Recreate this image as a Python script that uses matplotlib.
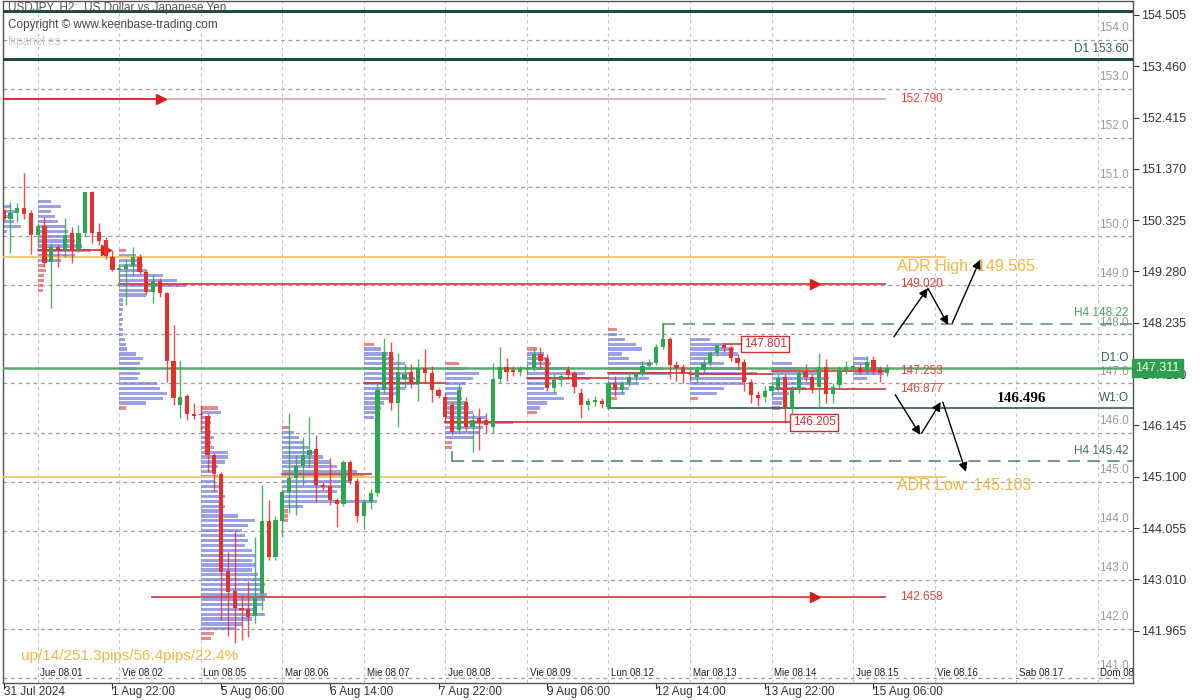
import matplotlib
matplotlib.use("Agg")
import matplotlib.pyplot as plt

plt.rcParams['font.family'] = ['Liberation Sans', 'DejaVu Sans']

# H2 candles, bar 0 = 31 Jul 14:00 (weekend bars skipped)
opens = [150.53, 150.35, 150.47, 150.57, 150.47, 150.02, 150.21, 149.48, 149.78, 149.72,
         150.06, 149.72, 150.06, 150.90, 150.08, 149.92, 149.58, 149.31, 149.33, 149.39,
         149.58, 149.27, 148.86, 149.09, 148.84, 147.45, 146.56, 146.74, 146.37, 146.37,
         146.33, 145.54, 145.15, 143.17, 142.77, 142.43, 142.41, 142.26, 142.71, 144.20,
         143.47, 144.20, 144.79, 145.07, 145.32, 145.54, 145.66, 144.93, 144.91, 144.63,
         144.54, 145.40, 145.01, 144.30, 144.58, 144.77, 146.87, 147.64, 146.60, 147.10,
         147.23, 147.01, 147.31, 147.21, 146.87, 146.72, 146.56, 146.05, 146.62, 146.11,
         146.30, 146.26, 146.11, 147.09, 147.34, 147.28, 147.23, 147.29, 147.31, 147.60,
         147.52, 146.91, 147.07, 147.27, 147.21, 146.81, 146.56, 146.62, 146.65, 146.52,
         147.01, 146.87, 147.00, 147.13, 147.20, 147.35, 147.42, 147.74, 147.90, 147.37,
         147.33, 147.21, 147.13, 147.27, 147.41, 147.62, 147.78, 147.72, 147.52, 147.44,
         147.03, 146.77, 146.72, 146.85, 146.90, 147.13, 146.50, 146.87, 147.23, 147.13,
         146.93, 147.33, 146.79, 146.97, 147.27, 147.31, 147.32, 147.27, 147.48, 147.29,
         147.21]
highs = [150.55, 150.70, 150.68, 151.29, 150.53, 150.27, 150.39, 149.86, 149.82, 150.37,
         150.19, 150.23, 150.90, 150.92, 150.27, 149.98, 149.72, 149.43, 149.51, 149.78,
         149.64, 149.33, 149.21, 149.15, 148.86, 148.19, 147.48, 146.78, 146.60, 146.56,
         146.40, 145.58, 145.19, 143.57, 143.99, 142.69, 142.98, 143.87, 144.93, 144.63,
         144.30, 144.83, 146.40, 145.54, 145.91, 146.32, 145.95, 145.00, 145.48, 144.67,
         145.44, 145.44, 145.07, 144.65, 144.85, 147.00, 147.92, 147.84, 147.62, 147.40,
         147.40, 147.50, 147.70, 147.35, 146.90, 146.80, 146.62, 147.01, 146.72, 146.40,
         146.50, 146.40, 147.42, 147.74, 147.52, 147.35, 147.35, 147.40, 147.70, 147.75,
         147.60, 147.20, 147.20, 147.35, 147.25, 146.90, 146.70, 146.75, 146.70, 147.05,
         147.15, 147.05, 147.20, 147.25, 147.45, 147.50, 147.80, 148.22, 147.95, 147.45,
         147.40, 147.30, 147.35, 147.50, 147.66, 147.80, 147.80, 147.76, 147.60, 147.50,
         147.10, 146.85, 146.95, 147.00, 147.20, 147.20, 146.95, 147.30, 147.40, 147.20,
         147.62, 147.50, 147.00, 147.35, 147.45, 147.40, 147.40, 147.55, 147.55, 147.35,
         147.40]
lows = [150.33, 149.66, 150.29, 150.35, 149.64, 149.80, 149.37, 148.54, 149.37, 149.58,
        149.45, 149.68, 149.98, 149.86, 149.82, 149.53, 149.29, 148.98, 148.60, 149.21,
        149.23, 148.80, 148.64, 148.76, 147.03, 146.56, 146.29, 146.25, 146.27, 146.01,
        145.20, 144.80, 142.18, 141.86, 141.71, 141.77, 141.84, 142.12, 142.39, 143.40,
        143.41, 143.88, 144.36, 144.32, 144.93, 145.30, 144.59, 144.82, 144.53, 144.08,
        144.50, 144.95, 144.18, 144.03, 144.45, 144.70, 146.80, 146.46, 146.12, 146.90,
        146.90, 146.65, 147.00, 146.62, 146.70, 146.20, 145.95, 145.97, 146.03, 145.60,
        145.65, 146.00, 145.99, 147.00, 147.04, 147.15, 147.15, 147.20, 147.25, 147.30,
        146.85, 146.80, 146.95, 147.10, 146.80, 146.30, 146.45, 146.55, 146.50, 146.45,
        146.75, 146.80, 146.95, 147.05, 147.15, 147.30, 147.38, 147.70, 147.10, 147.05,
        147.00, 147.05, 147.00, 147.20, 147.35, 147.55, 147.65, 147.45, 147.30, 146.85,
        146.60, 146.55, 146.62, 146.75, 146.85, 146.20, 146.35, 146.80, 147.05, 146.80,
        146.50, 146.60, 146.60, 146.90, 147.20, 147.25, 147.20, 147.20, 147.20, 147.02,
        147.15]
closes = [150.35, 150.47, 150.57, 150.46, 150.02, 150.21, 149.45, 149.78, 149.70, 150.02,
          149.72, 150.06, 150.90, 150.06, 149.90, 149.60, 149.31, 149.35, 149.41, 149.58,
          149.27, 148.86, 149.09, 148.84, 147.45, 146.70, 146.72, 146.37, 146.33, 146.35,
          145.54, 145.15, 143.16, 142.75, 142.43, 142.39, 142.24, 142.67, 144.20, 143.47,
          144.22, 144.79, 145.07, 145.32, 145.54, 145.64, 144.93, 144.90, 144.63, 144.54,
          145.40, 145.01, 144.30, 144.58, 144.77, 146.87, 147.64, 146.60, 147.23, 147.20,
          147.01, 147.31, 147.21, 146.87, 146.75, 146.31, 146.01, 146.87, 146.11, 146.26,
          146.20, 146.15, 147.09, 147.34, 147.23, 147.23, 147.29, 147.31, 147.60, 147.45,
          146.91, 147.07, 147.15, 147.17, 146.93, 146.56, 146.64, 146.66, 146.58, 147.01,
          146.87, 147.01, 147.13, 147.19, 147.35, 147.42, 147.74, 147.90, 147.37, 147.32,
          147.21, 147.19, 147.27, 147.41, 147.62, 147.78, 147.72, 147.52, 147.42, 147.03,
          146.77, 146.70, 146.85, 146.95, 147.11, 146.50, 146.87, 147.21, 147.13, 146.87,
          147.33, 146.79, 146.93, 147.27, 147.33, 147.35, 147.24, 147.43, 147.27, 147.21,
          147.311]

# daily volume profiles: start bar, top price, row widths (in bars, 0.1 rows top->bottom)
prof_start = [-0.5, 5, 17, 29, 41, 53, 65, 77, 89, 101, 113, 125]
prof_top = [150.6, 150.7, 149.7, 146.5, 146.1, 147.8, 147.4, 147.7, 148.1, 147.9, 147.4, 147.5]
prof_widths = [
    [1.5, 2.5, 1.2, 2.0, 3.0, 1.0],
    [2.0, 3.5, 2.0, 2.5, 3.0, 4.0, 4.5, 5.0, 5.5, 6.5, 7.8, 5.5, 3.5, 1.0, 1.2, 1.0, 1.0, 0.8, 0.8],
    [1.0, 2.5, 3.0, 3.5, 4.0, 6.5, 8.5, 9.8, 5.0, 4.0, 0.6, 0.5, 0.5, 0.4, 0.5, 0.4, 0.5, 0.6,
     0.8, 1.0, 1.2, 2.5, 3.5, 3.0, 2.5, 3.0, 2.8, 5.5, 6.0, 7.0, 6.5, 4.0, 1.0],
    [2.5, 3.0, 1.5, 1.5, 1.3, 1.5, 2.0, 1.5, 2.0, 4.0, 4.0, 3.5, 2.5, 2.0, 2.5, 2.0, 3.0, 2.5,
     3.5, 3.0, 3.5, 3.0, 5.5, 8.0, 7.0, 6.0, 6.5, 7.0, 6.5, 7.5, 8.0, 7.5, 8.0, 7.5, 8.5, 9.0,
     9.5, 9.0, 9.7, 9.5, 9.0, 8.0, 9.5, 7.5, 6.0, 5.0, 2.0, 1.5],
    [1.0, 1.7, 2.5, 3.0, 4.0, 5.0, 6.0, 7.0, 8.0, 11.0, 12.0, 10.0, 9.0, 8.0, 7.0, 14.0, 3.0, 0.8, 0.8, 0.8],
    [1.5, 2.5, 3.5, 4.5, 6.0, 6.5, 7.0, 7.5, 8.0, 6.0, 5.0, 4.0, 3.0, 2.5, 2.0, 1.5],
    [2.0, 3.0, 5.0, 4.0, 3.0, 2.5, 2.0, 2.5, 3.0, 3.5, 4.0, 6.0, 10.0, 5.5, 5.0, 4.0, 1.0, 1.0],
    [1.5, 2.5, 3.0, 3.5, 6.0, 8.5, 9.3, 3.5, 2.5, 4.5, 5.5, 3.0, 2.0, 1.5],
    [1.2, 1.2, 2.5, 4.0, 5.0, 2.0, 3.0, 6.5, 8.0, 9.0, 6.0, 4.5, 3.0, 2.5, 1.2],
    [3.0, 5.0, 6.5, 7.0, 3.0, 5.0, 7.5, 9.8, 8.4, 8.0, 5.0, 4.0, 1.2],
    [3.0, 4.5, 7.0, 8.5, 6.0, 5.0, 2.6, 2.0, 1.6, 1.2],
    [2.0, 2.5, 4.0, 4.5, 2.0],
]
prof_red_top = [0, 0, 1, 1, 1, 1, 1, 1, 1, 0, 0, 0]
prof_red_bot = [0, 6, 1, 2, 3, 0, 2, 1, 1, 1, 1, 0]

day_idx = [5, 17, 29, 41, 53, 65, 77, 89, 101, 113, 125, 137, 149, 161]
day_labels = ["Jue 08.01", "Vie 08.02", "Lun 08.05", "Mar 08.06", "Mie 08.07", "Jue 08.08",
              "Vie 08.09", "Lun 08.12", "Mar 08.13", "Mie 08.14", "Jue 08.15", "Vie 08.16",
              "Sab 08.17", "Dom 08.18"]
date_idx = [0, 16, 32, 48, 64, 80, 96, 112, 128]
date_labels = ["31 Jul 2024", "1 Aug 22:00", "5 Aug 06:00", "6 Aug 14:00", "7 Aug 22:00",
               "9 Aug 06:00", "12 Aug 14:00", "13 Aug 22:00", "15 Aug 06:00"]
price_ticks = [154.505, 153.460, 152.415, 151.370, 150.325, 149.280, 148.235, 147.190,
               146.145, 145.100, 144.055, 143.010, 141.965]
grid_levels = [154, 153, 152, 151, 150, 149, 148, 147, 146, 145, 144, 143, 142, 141]

# naked POC rays: price, start bar, arrow bar
ray_prices = [152.790, 149.020, 142.658, 147.253, 146.877]
ray_start = [0, 17, 21.9, 113, 113.8]
ray_arrow = [23.1, 119.4, 119.4, None, None]
# touched POC segments
poc_prices = [149.72, 145.15, 147.00, 147.12, 147.22, 147.20]
poc_start = [5, 41, 53, 77, 89, 101]
poc_end = [15, 54, 65, 89, 101, 113]

adr_high = 149.565
adr_low = 145.103
w1_open = 146.496
d1_open = 147.311
h4_high = 148.22
h4_low = 145.42
d1_levels = [154.58, 153.60]
last_price = 147.311

up_path = [(131.0, 147.95), (136.0, 148.94), (139.0, 148.19)]
up_last = [(139.6, 148.23), (143.7, 149.52)]
dn_path = [(131.2, 146.77), (134.9, 145.95)]
dn_mid = [(135.1, 145.99), (137.9, 146.62)]
dn_last = [(138.2, 146.62), (141.6, 145.20)]

GREEN = '#2ea84f'
RED = '#e8302a'
TEAL = '#1e4a45'

fig = plt.figure(figsize=(12, 7), dpi=100)
ax = fig.add_axes([0.0025, 0.0243, 0.9417, 0.9743])
ax.set_xlim(-0.1, 166.2)
ax.set_ylim(140.898, 154.79)

for g in grid_levels:
    ax.axhline(g, color='#9a9a9a', lw=0.9, ls=(0, (3, 3)), zorder=1)
    ax.annotate(f"{g:.1f}", xy=(0.996, g), xycoords=ax.get_yaxis_transform(),
                xytext=(0, 4), textcoords='offset points', ha='right', va='bottom',
                fontsize=8.5, color='#9a9a9a', zorder=2)
for d, lab in zip(day_idx, day_labels):
    ax.axvline(d, color='#c4c4c4', lw=0.8, ls=(0, (3, 3)), zorder=1)
    ax.text(d + 0.4, 140.99, lab, fontsize=7, color='#222', va='bottom', ha='left',
            clip_on=True, zorder=6)

# profiles
for s, top, ws, rt, rb in zip(prof_start, prof_top, prof_widths, prof_red_top, prof_red_bot):
    n = len(ws)
    for k, w in enumerate(ws):
        p = round(top - 0.1 * k, 2)
        red = k < rt or k >= n - rb
        ax.barh(p, w, left=s, height=0.065, color='#e25656' if red else '#7378dc',
                alpha=0.7, lw=0, zorder=2)

# horizontal levels
for lv in d1_levels:
    ax.axhline(lv, color=TEAL, lw=2.2, zorder=3)
ax.plot([0, 138.5], [adr_high, adr_high], color='#f2c46a', lw=1.3, zorder=3)
ax.plot([0, 138.5], [adr_low, adr_low], color='#f2c46a', lw=1.3, zorder=3)
ax.axhline(d1_open, color='#5aa86a', lw=1.8, zorder=3)
ax.plot([89, 166.2], [w1_open, w1_open], color='#2e5e58', lw=1.2, zorder=3)
ax.plot([97, 166.2], [h4_high, h4_high], color='#4c9a5f', lw=1.1, ls=(0, (8, 5)), zorder=3)
ax.plot([97, 97], [147.92, h4_high], color='#4c9a5f', lw=1.1, zorder=3)
ax.plot([66, 166.2], [h4_low, h4_low], color='#4a7b78', lw=1.1, ls=(0, (8, 5)), zorder=3)
ax.plot([66, 66], [145.60, h4_low], color='#4a7b78', lw=1.1, zorder=3)

for p, s, e in zip(poc_prices, poc_start, poc_end):
    ax.plot([s, e], [p, p], color='#d83030', lw=1.2, zorder=3)
ax.plot([15], [149.72], marker='>', color='#d81e1e', ms=7, zorder=4)

for p, s, a in zip(ray_prices, ray_start, ray_arrow):
    if p == 152.790:
        ax.plot([s, a], [p, p], color='#d81e1e', lw=1.3, zorder=3)
        ax.plot([a, 129.7], [p, p], color='#f0a6a6', lw=1.3, zorder=3)
    else:
        ax.plot([s, 129.7], [p, p], color='#d83030', lw=1.2, zorder=3)
    if a is not None:
        ax.plot([a], [p], marker='>', color='#d81e1e', ms=7, zorder=4)
    ax.text(131.9, p, f"{p:.3f}", color='#e0413a', fontsize=8.5, va='center', ha='left', zorder=6)

# candles
for i in range(len(opens)):
    o, h, l, c = opens[i], highs[i], lows[i], closes[i]
    col = GREEN if c >= o else RED
    ax.vlines(i, l, h, color=col, lw=1, alpha=0.85, zorder=5)
    ax.bar(i, max(abs(c - o), 0.02), bottom=min(o, c), width=0.62, color=col, lw=0, zorder=6)

# high / POC boxes
ax.plot([106, 108.8], [147.801, 147.801], color='#d83030', lw=1.2, zorder=3)
ax.plot([65, 116], [146.205, 146.205], color='#d83030', lw=1.2, zorder=3)
box = dict(boxstyle='square,pad=0.2', fc='white', ec='#d03030', lw=1)
ax.text(108.9, 147.801, "147.801", color='#d03030', fontsize=8.5, va='center', ha='left', bbox=box, zorder=7)
ax.text(116.1, 146.205, "146.205", color='#d03030', fontsize=8.5, va='center', ha='left', bbox=box, zorder=7)

# scenario arrows
aprops = dict(arrowstyle='-|>', color='black', lw=1, mutation_scale=13, shrinkA=0, shrinkB=0)
for seg in [up_path[0:2], up_path[1:3], up_last, dn_path, dn_mid, dn_last]:
    ax.annotate("", xy=seg[1], xytext=seg[0], arrowprops=aprops, zorder=8)

# texts
ax.text(131.5, 149.39, "ADR High: 149.565", color='#f5b53f', fontsize=11.5, va='center', ha='left', zorder=7)
ax.text(131.5, 144.93, "ADR Low: 145.103", color='#f5b53f', fontsize=11.5, va='center', ha='left', zorder=7)
ax.text(2.5, 141.45, "up/14/251.3pips/56.4pips/22.4%", color='#f5b53f', fontsize=11, va='center', ha='left', zorder=7)
ax.text(146.2, 146.70, "146.496", fontsize=11, fontweight='bold', family=['Liberation Serif', 'DejaVu Serif'],
        color='black', va='center', ha='left', zorder=7)

yt = ax.get_yaxis_transform()
side = [(153.60, "D1 153.60", '#2e5e58'), (h4_high, "H4 148.22", '#4c9a5f'),
        (d1_open, "D1:O", '#2e5e58'), (w1_open, "W1:O", '#2e5e58'), (h4_low, "H4 145.42", '#3f6f6c')]
for p, t, c in side:
    ax.annotate(t, xy=(0.996, p), xycoords=yt, xytext=(0, 3), textcoords='offset points',
                ha='right', va='bottom', fontsize=8.5, color=c, zorder=7)

fig.text(8 / 1200, 1 - 8 / 700, "USDJPY, H2:  US Dollar vs Japanese Yen", fontsize=8.5, color='#555', va='center')
fig.text(8 / 1200, 1 - 25 / 700, "Copyright \u00a9 www.keenbase-trading.com", fontsize=8.5, color='#444', va='center')
fig.text(8 / 1200, 1 - 42 / 700, "fxpanel.es", fontsize=8.5, color='#c8c8c8', va='center')

# axes
ax.yaxis.tick_right()
ax.set_yticks(price_ticks)
ax.set_yticklabels([f"{v:.3f}" for v in price_ticks])
ax.tick_params(axis='y', labelsize=9, colors='#333', length=4, pad=2)
ax.set_xticks(date_idx)
ax.set_xticklabels(date_labels, ha='left')
ax.tick_params(axis='x', labelsize=8.5, colors='#333', length=4, pad=-2)
for sp in ax.spines.values():
    sp.set_color('#555')
    sp.set_linewidth(1)

ax.text(1.002, last_price, "147.311", transform=yt, color='white', fontsize=9, va='center', ha='left',
        bbox=dict(boxstyle='square,pad=0.25', fc='#2e9e4f', ec='#2e9e4f'), clip_on=False, zorder=9)

fig.savefig("out.png", dpi=100)
